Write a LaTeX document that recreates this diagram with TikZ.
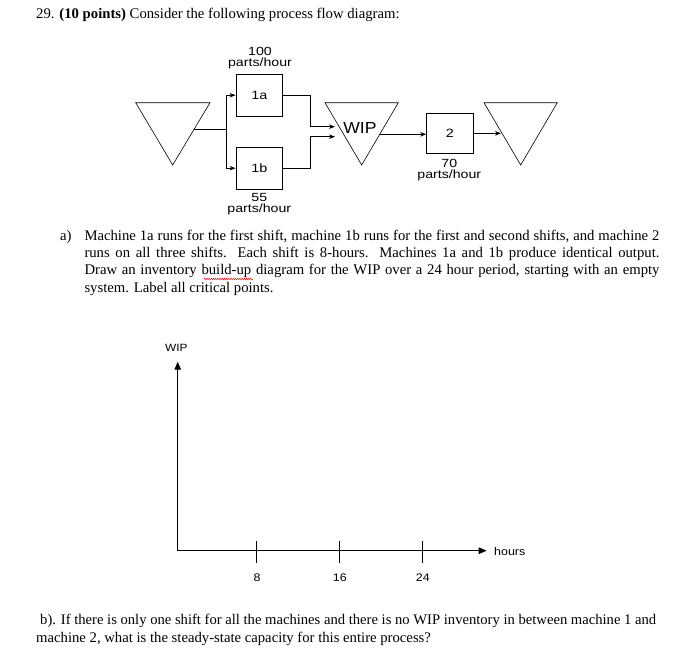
\documentclass[tikz,border=0pt]{standalone}
\usepackage{fontspec}
\usepackage{graphicx}
\setmainfont{Liberation Serif}
\newfontfamily\arial{Liberation Sans}
\usetikzlibrary{arrows.meta,decorations.pathmorphing}
\newsavebox\jbox
\newcommand\jline[2]{\sbox\jbox{#2}\ifdim\wd\jbox<#1\relax\makebox[#1][s]{#2}\else\resizebox{#1}{\height}{#2}\fi}
\newcommand\hs[1]{\scalebox{1.2}[1]{#1}}
\newcommand\gs[1]{\scalebox{1.13}[1]{#1}}
\tikzset{
  flow/.style={line width=0.8pt, draw=black},
  arr/.style={flow, -{Stealth[length=6pt,width=4.5pt]}},
  axis/.style={line width=1pt, draw=black, -{Triangle[length=8pt,width=6.5pt]}},
  tick/.style={line width=0.8pt, draw=black},
  tri/.style={line width=0.6pt, draw=black},
  machine/.style={draw, line width=0.8pt, minimum width=46.7pt, minimum height=41.7pt, inner sep=0pt, font=\arial\fontsize{12}{13}\selectfont},
  lab/.style={font=\arial\fontsize{11.8}{11}\selectfont, align=center, inner sep=0pt, anchor=north},
  glab/.style={font=\arial\fontsize{11}{13}\selectfont, inner sep=0pt},
  body/.style={font=\fontsize{14.7}{17}\selectfont, anchor=base west, inner sep=0pt},
  squiggle/.style={draw=red, line width=0.5pt, decorate, decoration={snake, amplitude=0.7pt, segment length=2.2pt}},
}
\begin{document}
\begin{tikzpicture}[x=1pt,y=-1pt]
\useasboundingbox (0,0) rectangle (689,667);
\fill[white] (0,0) rectangle (689,667);

% title
\node[body] (title) at (36,18.5) {29. \textbf{(10 points)} Consider the following process flow diagram:};

% triangles (inventory)
\draw[tri] (135.7,102.7) -- (210,102.7) -- (172.7,165) -- cycle;
\draw[tri] (325,102.7) -- (398.3,102.7) -- (361.7,165) -- cycle;
\draw[tri] (484,102.7) -- (557.3,102.7) -- (520.7,165) -- cycle;
\node[font=\arial\fontsize{16}{19}\selectfont, inner sep=0pt] (wip) at (360,127.5) {\scalebox{1.1}[1]{WIP}};

% machines
\node[machine] (m1a) at (259.3,95.2) {\hs{1a}};
\node[machine] (m1b) at (259.3,168.2) {\hs{1b}};
\node[machine, minimum height=40pt] (m2) at (450,133.3) {\hs{2}};

% rate labels
\node[lab] (r1a) at (260,47.3) {\hs{100}\\\hs{parts/hour}};
\node[lab] (r1b) at (259.3,192.7) {\hs{55}\\\hs{parts/hour}};
\node[lab] (r2) at (449.3,159.3) {\hs{70}\\\hs{parts/hour}};

% connector points
\coordinate (s1) at (194.1,129.3);
\coordinate (sp) at (226.7,129.3);
\coordinate (ja) at (310,126.7);
\coordinate (jb) at (310,136.7);
\coordinate (wa) at (335,126.7);
\coordinate (wb) at (335,136.7);
\coordinate (w2) at (379.7,134.3);
\coordinate (t3) at (501,133.3);

\draw[flow] (s1) -- (sp);
\draw[arr] (sp) |- (m1a.west);
\draw[arr] (sp) |- (m1b.west);
\draw[arr] (m1a.east) -| (ja) -- (wa);
\draw[arr] (m1b.east) -| (jb) -- (wb);
\draw[arr] (w2) -- (w2 -| m2.west);
\draw[arr] (m2.east) -- (t3);

% part a
\node[body] (alab) at (60,240.7) {a)};
\node[body] (a1) at (84.3,240.7) {\jline{575pt}{Machine 1a runs for the first shift, machine 1b runs for the first and second shifts, and machine 2}};
\node[body] (a2) at (84.3,257.8) {\jline{575pt}{runs on all three shifts.  Each shift is 8-hours.  Machines 1a and 1b produce identical output.}};
\node[body] (a3) at (84.3,274.9) {\jline{575pt}{Draw an inventory build-up diagram for the WIP over a 24 hour period, starting with an empty}};
\node[body] (a4) at (84.3,292) {system.  Label all critical points.};
\draw[squiggle] (204,279) -- (252.7,279);

% graph
\coordinate (O) at (177.7,550.7);
\coordinate (ytip) at (177.7,361.7);
\coordinate (xtip) at (486.7,550.7);
\draw[axis] (O) -- (ytip);
\draw[axis] (O) -- (xtip);
\foreach \x/\l in {256.7/8, 339.3/16, 422.3/24}{
  \coordinate (tt\l) at (\x,541);
  \coordinate (tb\l) at (\x,563.3);
  \draw[tick] (tt\l) -- (tb\l);
  \node[glab] (tl\l) at (\x+0.5,578) {\gs{\l}};
}
\node[glab, anchor=west] (hours) at (494,551.7) {\gs{hours}};
\node[glab, anchor=west, font=\arial\fontsize{10.5}{12}\selectfont] (wipax) at (165,348.3) {\gs{WIP}};

% part b
\node[body] (b1) at (40,624) {\jline{616pt}{b). If there is only one shift for all the machines and there is no WIP inventory in between machine 1 and}};
\node[body] (b2) at (36,642.3) {machine 2, what is the steady-state capacity for this entire process?};
\end{tikzpicture}
\end{document}
